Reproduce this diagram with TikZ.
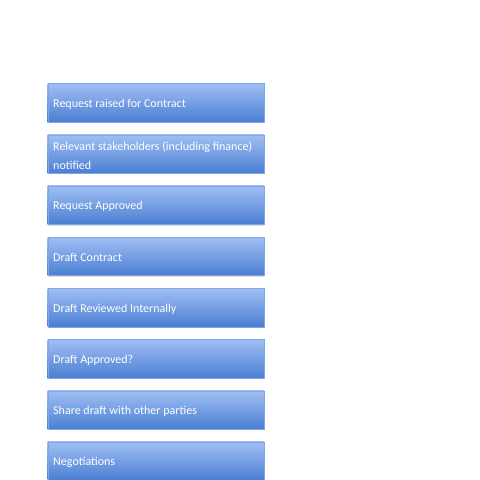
\documentclass[tikz,border=0pt]{standalone}
\usepackage{fontspec}
\setmainfont{Carlito}
\usetikzlibrary{shadows}
\definecolor{boxtop}{HTML}{A0BFF3}
\definecolor{boxbot}{HTML}{4A7ED3}
\definecolor{boxline}{HTML}{7FA6E6}
\tikzset{
  stepbox/.style={rectangle, minimum width=216.5pt, minimum height=38.5pt,
    top color=boxtop, bottom color=boxbot, draw=boxline, line width=0.4pt,
    drop shadow={shadow xshift=0pt, shadow yshift=-1.2pt, opacity=0.25},
    anchor=north west, inner sep=0pt},
  steptext/.style={anchor=west, text=white, font=\fontsize{12}{19}\selectfont,
    align=left, inner sep=0pt}
}
\begin{document}
\begin{tikzpicture}[x=1pt,y=-1pt]
\useasboundingbox[fill=white] (0,0) rectangle (480,480);
\foreach \i/\t [count=\k from 0] in {
  a/{Request raised for Contract},
  b/{Relevant stakeholders (including finance)\\notified},
  c/{Request Approved},
  d/{Draft Contract},
  e/{Draft Reviewed Internally},
  f/{Draft Approved?},
  g/{Share draft with other parties},
  h/{Negotiations}}{
  \node[stepbox] (\i) at (47.5, 83.3+51.2*\k) {};
  \node[steptext] (\i t) at ([xshift=5.5pt,yshift=-1.5pt]\i.west) {\t};
}
\end{tikzpicture}
\end{document}
